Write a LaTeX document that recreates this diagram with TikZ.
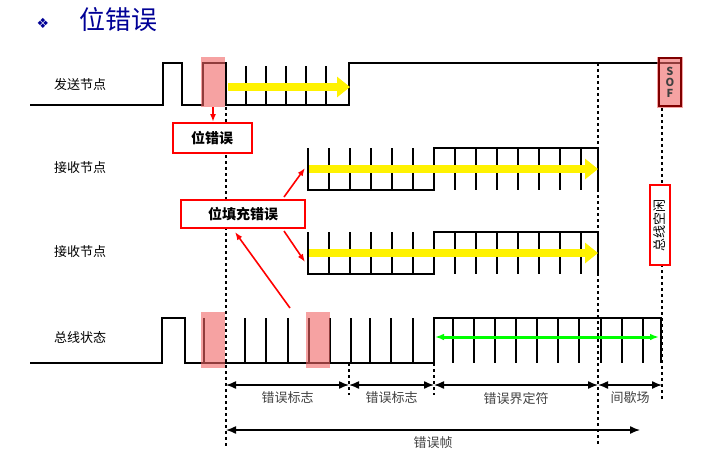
\documentclass[tikz,border=0pt]{standalone}
\usepackage{fontspec}
\setmainfont{Noto Sans CJK SC}
\newfontfamily\symfont{DejaVu Sans}
\usetikzlibrary{arrows.meta,positioning}
\definecolor{errred}{RGB}{240,100,100}
\definecolor{titleblue}{RGB}{0,0,150}
\tikzset{
  wave/.style={line width=2pt},
  vdash/.style={line width=1.8pt,dash pattern=on 3pt off 3pt},
  errbox/.style={draw=red,line width=2pt,fill=white,font=\bfseries\fontsize{14}{16}\selectfont,inner sep=3pt},
  hilite/.style={fill=errred,opacity=0.6},
  yarrow/.style={yellow,line width=8pt,-{Triangle[length=13pt,width=20pt]}},
  garrow/.style={green,line width=3pt,{Latex[length=9pt]}-{Latex[length=9pt]}},
  dimarrow/.style={line width=1.4pt,{Latex[length=10pt,width=8pt]}-{Latex[length=10pt,width=8pt]}},
  redarrow/.style={red,line width=1.6pt,-{Latex[length=8pt]}},
  rowlabel/.style={font=\fontsize{13}{15}\selectfont},
  dimlabel/.style={below=3pt,font=\fontsize{13}{15}\selectfont,text=black!75},
}
\begin{document}
\begin{tikzpicture}[x=1pt,y=-1pt]
  \useasboundingbox (0,0) rectangle (728,464);

  % Titel
  \node[titleblue,font=\symfont\fontsize{14}{16}\selectfont] (bullet) at (43,23) {❖};
  \node[titleblue,font=\fontsize{26}{30}\selectfont,anchor=west] (title) at (76,20) {位错误};

  % Zeilenbeschriftungen
  \node[rowlabel] (send) at (80,85) {发送节点};
  \node[rowlabel] (recv1) at (80,168) {接收节点};
  \node[rowlabel] (recv2) at (80,252) {接收节点};
  \node[rowlabel] (bus) at (80,338) {总线状态};

  % Senderknoten
  \draw[wave] (30,105) -- (163,105) -- (163,63) -- (182,63) -- (182,105)
    -- (203,105) -- (203,63) -- (226,63) -- (226,105) -- (349,105)
    -- (349,63) -- (682,63);
  \foreach \x in {246,266,286,306,326} {
      \draw[wave] (\x,105) -- (\x,66);
  }
  \draw[yarrow] (228,87) -- (350,87);

  % Empfaengerknoten
  \foreach \yh/\yl in {148/190,232/274} {
      \draw[wave] (308,\yh) -- (308,\yl) -- (434,\yl) -- (434,\yh) -- (598,\yh) -- (598,\yl);
      \foreach \x in {329,350,371,392,413} {
          \draw[wave] (\x,\yl) -- (\x,\yh);
      }
      \foreach \x in {455,476,497,518,539,560,581} {
          \draw[wave] (\x,\yh) -- (\x,\yl);
      }
      \draw[yarrow] (309,{(\yh+\yl)/2}) -- (598,{(\yh+\yl)/2});
  }

  % Buszustand
  \draw[wave] (30,363) -- (162,363) -- (162,318) -- (185,318) -- (185,363)
    -- (434,363) -- (434,318) -- (661,318) -- (661,363);
  \foreach \x in {204,245,266,288,309,330,351,370,391,413} {
      \draw[wave] (\x,363) -- (\x,318);
  }
  \foreach \x in {453,474,495,516,537,558,579,601,622,643} {
      \draw[wave] (\x,318) -- (\x,363);
  }
  \draw[garrow] (435,337) -- (659,337);

  % Markierungen
  \fill[hilite] (201,57) rectangle (225,107);
  \fill[hilite] (201,312) rectangle (225,368);
  \fill[hilite] (306,312) rectangle (330,368);
  \fill[hilite] (657,57) rectangle (683,108);
  \draw[line width=1.5pt,red!50!black] (659,58) rectangle (681,106);
  \node[font=\bfseries\fontsize{11}{12}\selectfont,align=center,inner sep=0pt,text=black!75] (sof) at (670,82) {S\\[-1pt]O\\[-1pt]F};

  % Gestrichelte Linien
  \draw[vdash] (226,107) -- (226,446);
  \draw[vdash] (349,363) -- (349,395);
  \draw[vdash] (434,363) -- (434,395);
  \draw[vdash] (598,63) -- (598,446);
  \draw[vdash] (662,108) -- (662,400);

  % Masspfeile
  \coordinate (d1) at (226,385);
  \coordinate (d2) at (349,385);
  \coordinate (d3) at (434,385);
  \coordinate (d4) at (598,385);
  \coordinate (d5) at (662,385);
  \draw[dimarrow] (d1) -- node[dimlabel] (flag1) {错误标志} (d2);
  \draw[dimarrow] (d2) -- node[dimlabel] (flag2) {错误标志} (d3);
  \draw[dimarrow] (d3) -- node[dimlabel] (delim) {错误界定符} (d4);
  \draw[dimarrow] (d4) -- node[dimlabel] (ifs) {间歇场} (d5);
  \coordinate (f1) at (226,430);
  \coordinate (f2) at (640,430);
  \draw[dimarrow] (f1) -- node[dimlabel] (frame) {错误帧} (f2);

  % Fehlerkaesten
  \node[errbox,minimum width=79pt,minimum height=30pt] (biterr) at (212,138) {位错误};
  \coordinate (bitsrc) at (213,107);
  \draw[redarrow] (bitsrc) -- (biterr.north -| bitsrc);
  \node[errbox,minimum width=124pt,minimum height=28pt] (stufferr) at (243,214) {位填充错误};
  \coordinate (r1) at (305,168);
  \coordinate (r2) at (305,262);
  \coordinate (busref) at (290,308);
  \draw[redarrow] (stufferr.north east) ++(-22,-2) -- (r1);
  \draw[redarrow] (stufferr.south east) ++(-22,2) -- (r2);
  \draw[redarrow] (busref) -- ([xshift=-8pt,yshift=-3pt]stufferr.south);

  % Busleerlauf
  \node[draw=red,line width=2pt,fill=white,rotate=90,font=\fontsize{13}{15}\selectfont,inner sep=2pt,minimum height=20pt,minimum width=80pt] (idle) at (660,225) {总线空闲};
\end{tikzpicture}
\end{document}
